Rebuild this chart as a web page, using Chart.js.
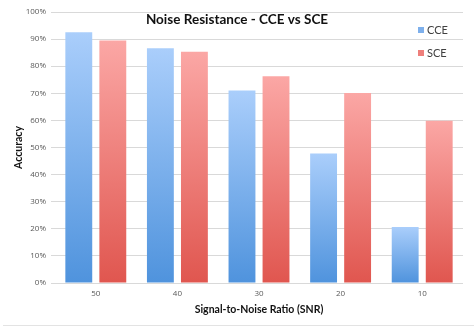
<!DOCTYPE html>
<html>
<head>
<meta charset="utf-8">
<script src="https://cdn.jsdelivr.net/npm/chart.js@4.4.0/dist/chart.umd.min.js"></script>
<style>
  html, body { margin: 0; padding: 0; background: #fff; }
  #wrap { width: 474px; height: 327px; }
</style>
</head>
<body>
<div id="wrap"><canvas id="myChart" width="474" height="327"></canvas></div>
<script>
// data
const snrLabels = ['50', '40', '30', '20', '10'];
const cceValues = [92.5, 86.6, 71.0, 47.8, 20.7];
const sceValues = [89.5, 85.3, 76.3, 70.1, 59.9];
const yTicks = [0, 10, 20, 30, 40, 50, 60, 70, 80, 90, 100];

const chartTitle = 'Noise Resistance - CCE vs SCE';
const gridColor = '#d9d9d9';
const tickColor = '#595959';

// vertical gradient per bar, light at top, darker at the base
function barFill(top, bottom) {
    return function(context) {
        const chart = context.chart;
        if (!chart.chartArea || context.type !== 'data') return bottom;
        const y = chart.scales.y;
        const y0 = y.getPixelForValue(context.raw);
        const y1 = y.getPixelForValue(0);
        if (!isFinite(y0) || y1 - y0 < 1) return top;
        const g = chart.ctx.createLinearGradient(0, y0, 0, y1);
        g.addColorStop(0, top);
        g.addColorStop(1, bottom);
        return g;
    };
}

// title + legend drawn over the plot, like the original
const overlay = {
    id: 'overlay',
    afterDraw(chart) {
        const ctx = chart.ctx;
        ctx.save();
        ctx.fillStyle = '#111';
        ctx.font = 'bold 13.5px Lato';
        ctx.textAlign = 'center';
        ctx.textBaseline = 'middle';
        ctx.fillText(chartTitle, 237, 20);

        ctx.font = '11px Lato';
        ctx.textAlign = 'left';
        chart.data.datasets.forEach(function(ds, i) {
            const y = 30 + i * 23;
            ctx.fillStyle = ds.legendColor;
            ctx.fillRect(418, y - 3, 6, 6);
            ctx.fillStyle = '#404040';
            ctx.fillText(ds.label, 427, y);
        });

        ctx.strokeStyle = '#e3e3e3';
        ctx.lineWidth = 1;
        ctx.beginPath();
        ctx.moveTo(3, 325.5);
        ctx.lineTo(474, 325.5);
        ctx.stroke();
        ctx.restore();
    }
};

const ctx = document.getElementById('myChart').getContext('2d');
var graphData = {
    type: 'bar',
    data: {
        labels: snrLabels,
        datasets: [{
            label: 'CCE',
            data: cceValues,
            backgroundColor: barFill('#aacefb', '#4f93dd'),
            legendColor: '#7eb0ec',
            borderWidth: 0
        }, {
            label: 'SCE',
            data: sceValues,
            backgroundColor: barFill('#fba7a5', '#e0564f'),
            legendColor: '#ee7f7b',
            borderWidth: 0
        }]
    },
    options: {
        responsive: false,
        animation: false,
        categoryPercentage: 0.834,
        barPercentage: 0.79,
        layout: { padding: { top: 12, right: 11, left: 0, bottom: 0 } },
        plugins: {
            legend: { display: false },
            title: { display: false },
            tooltip: { enabled: false }
        },
        scales: {
            x: {
                grid: { display: false, drawTicks: false },
                border: { display: false },
                ticks: { color: tickColor, font: { family: 'Open Sans', size: 8 }, padding: 6 },
                title: {
                    display: true,
                    text: 'Signal-to-Noise Ratio (SNR)',
                    color: '#111',
                    font: { family: 'Lato', size: 10.5, weight: 'bold' },
                    padding: { top: 0, bottom: 11 }
                },
                afterFit: function(scale) { scale.height = 44; }
            },
            y: {
                min: 0,
                max: 100,
                afterBuildTicks: function(scale) {
                    scale.ticks = yTicks.map(function(v) { return { value: v }; });
                },
                grid: { color: gridColor, tickLength: 4, lineWidth: 1 },
                border: { display: false },
                ticks: {
                    color: tickColor,
                    font: { family: 'Open Sans', size: 8 },
                    padding: 5,
                    callback: function(v) { return v + '%'; }
                },
                title: {
                    display: true,
                    text: 'Accuracy',
                    color: '#111',
                    font: { family: 'Lato', size: 10.5, weight: 'bold' },
                    padding: { top: 12, bottom: 0 }
                },
                afterFit: function(scale) { scale.width = 55; }
            }
        }
    },
    plugins: [overlay]
};
const myChart = new Chart(ctx, graphData);
</script>
</body>
</html>
